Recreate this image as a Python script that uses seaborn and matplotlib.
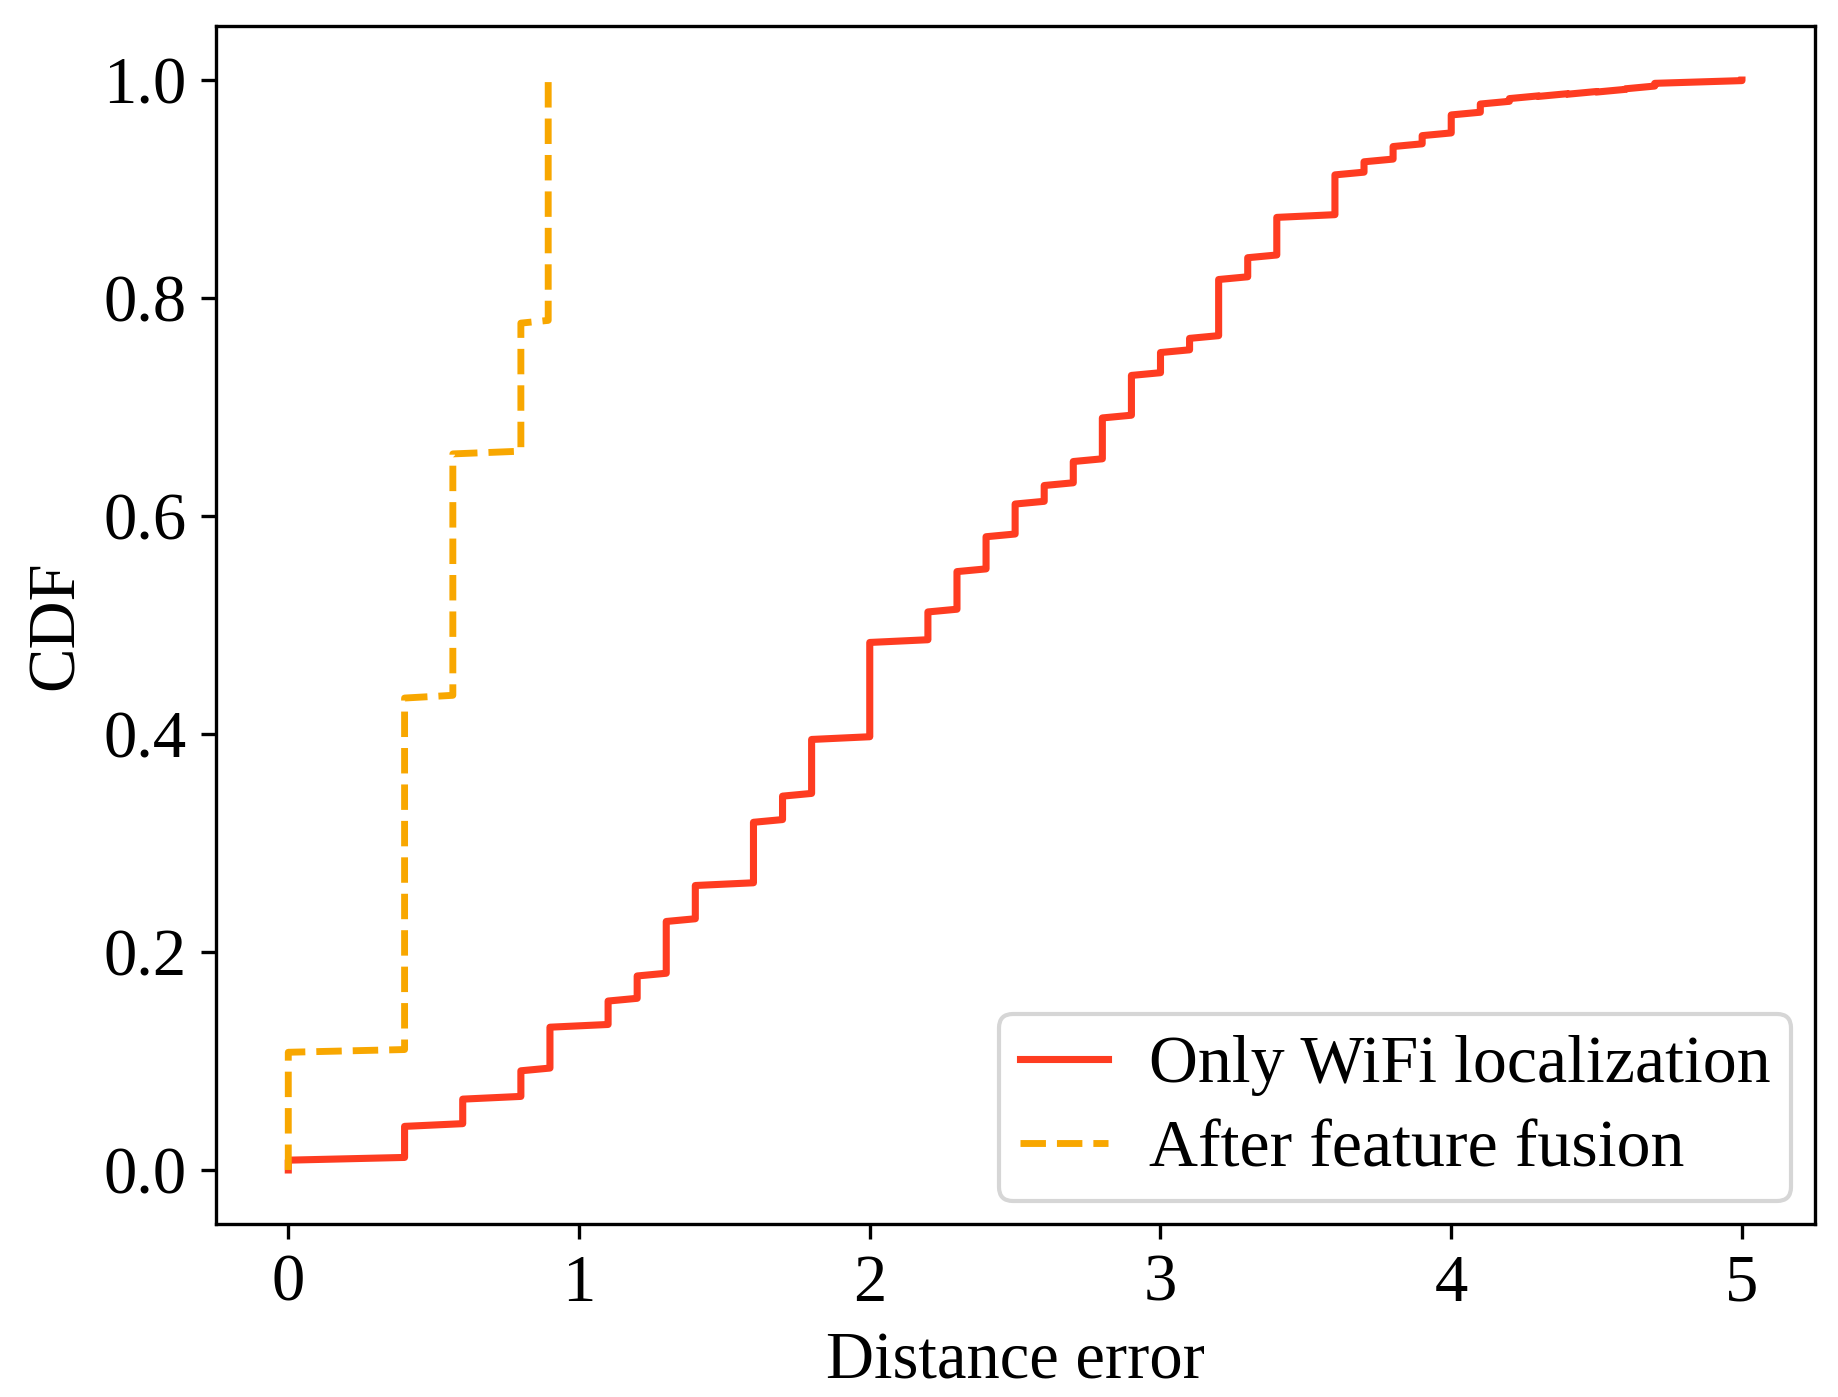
import numpy as np
import pandas as pd
import matplotlib
matplotlib.use("Agg")
import matplotlib.pyplot as plt
import seaborn as sns

# CDF step data (error value -> cumulative fraction)
wifi_err = [0.0, 0.4, 0.6, 0.8, 0.9, 1.1, 1.2, 1.3, 1.4, 1.6, 1.7, 1.8, 2.0,
            2.2, 2.3, 2.4, 2.5, 2.6, 2.7, 2.8, 2.9, 3.0, 3.1, 3.2, 3.3, 3.4,
            3.6, 3.7, 3.8, 3.9, 4.0, 4.1, 4.2, 4.3, 4.4, 4.5, 4.6, 4.7, 5.0]
wifi_cdf = [0.009, 0.040, 0.065, 0.091, 0.131, 0.155, 0.178, 0.228, 0.261,
            0.319, 0.343, 0.395, 0.484, 0.512, 0.549, 0.581, 0.611, 0.628,
            0.650, 0.690, 0.729, 0.750, 0.763, 0.817, 0.837, 0.874, 0.913,
            0.925, 0.939, 0.949, 0.968, 0.978, 0.983, 0.985, 0.987, 0.989,
            0.992, 0.997, 1.0]

fusion_err = [0.0, 0.4, 0.566, 0.8, 0.894]
fusion_cdf = [0.108, 0.433, 0.657, 0.777, 1.0]

labels = ["Only WiFi localization", "After feature fusion"]
colors = ["#FE3C21", "#F8A700"]

# each sample adds a small rise between distinct values (1/n of the sample)
rise = 0.0025


def cdf_path(err, cdf):
    xs, ys = [err[0], err[0]], [0.0, cdf[0]]
    for j in range(1, len(err)):
        xs += [err[j], err[j]]
        ys += [cdf[j - 1] + rise, cdf[j]]
    return pd.DataFrame({"x": xs, "y": ys})


plt.rcParams["font.family"] = ["Liberation Serif", "DejaVu Serif"]
plt.rcParams["font.size"] = 16

fig = plt.figure(figsize=(1838 / 300, 1397 / 300), dpi=300)
ax = fig.add_axes([0.1173, 0.1235, 0.9873 - 0.1173, 0.9817 - 0.1235])

wifi = cdf_path(wifi_err, wifi_cdf)
fusion = cdf_path(fusion_err, fusion_cdf)

sns.lineplot(data=wifi, x="x", y="y", sort=False, estimator=None, ax=ax,
             color=colors[0], linewidth=1.7, label=labels[0])
sns.lineplot(data=fusion, x="x", y="y", sort=False, estimator=None, ax=ax,
             color=colors[1], linewidth=1.65, linestyle="--", label=labels[1])

ax.set_xlim(-0.25, 5.25)
ax.set_ylim(-0.05, 1.05)
ax.set_xticks([0, 1, 2, 3, 4, 5])
ax.set_yticks([0.0, 0.2, 0.4, 0.6, 0.8, 1.0])
ax.set_yticklabels(["0.0", "0.2", "0.4", "0.6", "0.8", "1.0"])
ax.tick_params(labelsize=16)
ax.set_xlabel("Distance error", fontsize=16)
ax.set_ylabel("CDF", fontsize=16)

ax.legend(loc="lower right", fontsize=16.3, handlelength=1.3,
          handletextpad=0.6, borderpad=0.3, labelspacing=0.33,
          borderaxespad=0.35)

fig.savefig("out.png", dpi=300)
